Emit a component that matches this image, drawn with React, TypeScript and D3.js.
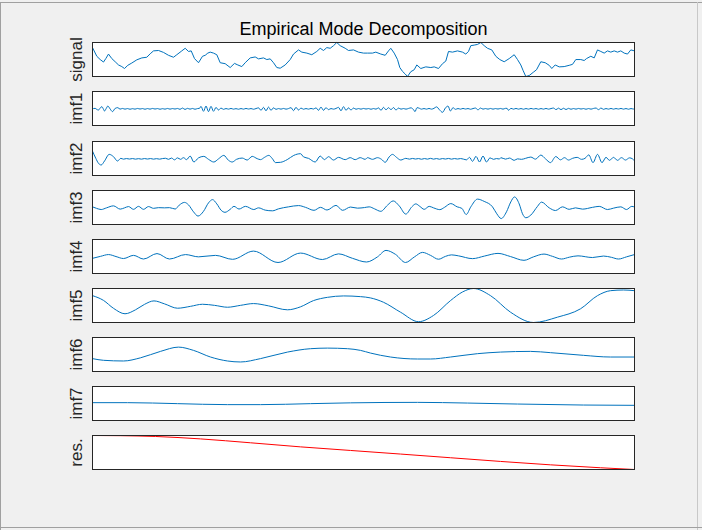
import React from "react";
import * as d3 from "d3";

const chartTitle = "Empirical Mode Decomposition";
const panelLabels = ["signal", "imf1", "imf2", "imf3", "imf4", "imf5", "imf6", "imf7", "res."];

// [time, value] samples
const signalData: [number, number][] = [
  [0, 12.7], [4.3, 3.7], [7.7, 0.3], [11, -2.3], [13.3, 1.3], [16, 6], [19.3, 1.3], [22.7, -2], [26, -5.3], [29.3, -7],
  [32, -9], [35.3, -5.7], [39.3, -3.3], [44.3, 0], [49.3, 2], [54.3, 2.7], [57.7, 6.3], [61, 9.3], [66, 9.7], [71, 7.7],
  [76, 4.7], [81, 2.7], [84.3, 5.3], [89.3, 9.3], [92.7, 12], [96, 8.7], [98.7, 9.3], [102, 1.3], [106, -3], [110, 3.7],
  [112.7, 4.7], [115.3, 7], [117.7, 8], [121, 7], [124.3, 5.3], [127.7, -3], [132.7, -4], [137.7, -8], [142, -3.7], [145.3, -5.3],
  [149.3, -7], [152.7, -3], [157.7, 2], [162.7, 3], [166, 1], [171, 2], [174.3, 0.3], [177.7, 1], [181, -3], [184.3, -8],
  [187.7, -8.7], [192.7, -5.3], [197.7, 0.3], [201, 6], [206, 10.3], [209.3, 8], [214.3, 7], [219.3, 5.3], [224.3, 8.7], [227.7, 12],
  [231, 9.7], [234.3, 12.7], [237.7, 12], [241, 14.7], [244.3, 18], [247.7, 14.7], [252.7, 12], [256, 9.7], [261, 10.3], [266, 8],
  [271, 7], [275, 7], [280, 7], [283.3, 8], [288.3, 6], [292.7, 4.7], [296, 9.3], [298.3, 12], [301.7, 7], [305, 0.3],
  [307.3, -8], [310, -12], [312.7, -14.7], [315, -17.3], [318.3, -12.3], [321.7, -10.3], [324.3, -5.3], [328.3, -9], [333.3, -7.3], [338.3, -8],
  [341.7, -7.3], [346, -9], [350, -4], [353.3, -1.3], [356, 8.7], [360, 8], [365, 9.3], [370, 8], [373.3, 6], [376, 8.7],
  [378.3, 14.7], [381.7, 15.3], [385, 16], [388.3, 18], [391.7, 14.7], [395, 12], [399.3, 10.3], [403.3, 3.7], [407.3, 0.3], [411.7, -2],
  [416.7, 1.3], [421.7, 5.3], [425, 0.3], [428.3, -5.3], [430.7, -11.3], [433.3, -17.3], [436.7, -16.3], [440.7, -13], [444, -10.3], [448.3, -2],
  [452.7, -3], [456.7, -5.7], [459.3, -9], [462.7, -5.3], [466.7, -7.3], [471.7, -7], [476.7, -5.7], [480, -4.7], [483.3, 0.3], [488.3, 0.3],
  [491.7, -0.7], [494, 1.3], [498.3, 3.7], [501.7, 2], [505, 10.3], [508.3, 8.7], [511.7, 7], [515, 9.3], [518.3, 8], [521.7, 9.3],
  [525, 8], [528.3, 9.3], [531.7, 7], [535, 6], [538.3, 10.3], [542, 9.3],
];

const imf1Data: [number, number][] = [
  [0, 0], [1, 0.3], [2.7, 0.5], [4.3, -0.6], [6, -1.2], [7.7, 0.8], [9.3, 2.2], [10.7, 0.2], [12, -2.2], [13.7, 0.3],
  [15.3, 2.8], [17.7, -0.2], [20, -2.8], [22.7, 0.5], [25.3, 1.2], [27.5, -0.3],
  [30, 0.4], [32.5, -0.3], [35, 0.3], [37.5, -0.4], [40, 0.2], [42.5, -0.3], [45, 0.4], [47.5, -0.2], [50, 0.3], [52.5, -0.4],
  [55, 0.3], [57.5, -0.3], [60, 0.4], [62.5, -0.2], [65, 0.3], [67.5, -0.4], [70, 0.2], [72.5, -0.3], [75, 0.4], [77.5, -0.3],
  [80, 0.3], [82.5, -0.2], [85, 0.4], [87.5, -0.5], [90, 0.8], [92.5, -0.6], [95, 0.5], [97.5, -0.3], [100, 0.4], [102.5, -0.4], [105, 0.3],
  [107, 0.5], [108.5, 2.5], [111, -2.5], [113.5, 2.8], [116, -2.8], [118.5, 2.5], [121, -2.5], [123.5, 1.5], [126, -1.2], [128.5, 0.8],
  [131, -0.5], [133.5, 0.3],
  [136, -0.3], [138.5, 0.4], [141, -0.3], [143.5, 0.2], [146, -0.4], [148.5, 0.3], [151, -0.3], [153.5, 0.4], [156, -0.2], [158.5, 0.3],
  [161, -0.4], [163.5, 0.3],
  [166, 1], [168.5, -1.5], [171, 1.5], [173.5, -2], [176, 1.8], [178.5, -1.5], [181, 1], [183.5, -0.5],
  [186, 0.3], [188.5, -0.3], [191, 0.4], [193.5, -0.3], [196, 0.3],
  [198.5, 1.2], [201, -1.8], [203.5, 1.5], [206, -1.2], [208.5, 0.8], [211, -0.4],
  [213.5, 0.3], [216, -0.3], [218.5, 0.4], [221, -0.2],
  [223.5, 1], [226, -1.5], [228.5, 1.8], [231, -1.5], [233.5, 1.2], [236, -0.8], [238.5, 0.3],
  [241, -0.3], [243.5, 0.4],
  [246, 1.5], [248.5, -2], [251, 2.2], [253.5, -1.5], [256, 1], [258.5, -1.2], [261, 0.8], [263.5, -0.4],
  [266, 0.3], [268.5, -0.3], [271, 0.4], [273.5, -0.2], [276, 0.3], [278.5, -0.4], [281, 0.3], [283.5, -0.3],
  [286, 1], [288.5, -1.5], [291, 1.5], [293.5, -1], [296, 1.2], [298.5, -0.8], [301, 1.3], [303.5, -1.2], [306, 0.8], [308.5, -0.3],
  [311, 0.3], [313.5, -0.3], [316, 0.4],
  [318.5, 1], [321, -0.8], [322.5, -2.8], [324.5, 1.2], [327, 0.5], [329, -0.3],
  [331.5, 0.3], [334, -0.3], [336.5, 0.4], [339, -0.3],
  [341.5, 0.5], [344, 2], [347, -1], [350, -3.5], [353, 1], [355.5, 2.8], [358, -2.2], [360.5, 1.2], [363, -0.5],
  [365.5, 0.3], [368, -0.3], [370.5, 0.4], [373, -0.2], [375.5, 0.3], [378, -0.4], [380.5, 0.3],
  [383, 0.8], [385.5, -1], [388, 0.8], [390.5, -0.3],
  [393, 0.3], [395.5, -0.3], [398, 0.4], [400.5, -0.3], [403, 0.3], [405.5, -0.2], [408, 0.4], [410.5, -0.3], [413, 0.5],
  [414.5, 0.5], [416, -1.5], [418.5, 0.5],
  [421, -0.3], [423.5, 0.4], [426, -0.3], [428.5, 0.3], [431, -0.4], [433.5, 0.3], [436, -0.3], [438.5, 0.4], [441, -0.2], [443.5, 0.3],
  [446, -0.4], [448.5, 0.3], [451, -0.3], [453.5, 0.4], [456, -0.3], [458.5, 0.3],
  [461, 0.8], [463.5, -0.8], [466, 0.7], [468.5, -0.8], [471, 0.6], [473.5, -0.7], [476, 0.5], [478.5, -0.4],
  [481, 0.3], [483.5, -0.3], [486, 0.4], [488.5, -0.2], [491, 0.3], [493.5, -0.4], [496, 0.3], [498.5, -0.3], [501, 0.4],
  [503.5, 0.8], [506, -0.8], [508.5, 0.8], [511, -0.5],
  [513.5, 0.3], [516, -0.3], [518.5, 0.4], [521, -0.3], [523.5, 0.3], [526, -0.2], [528.5, 0.4], [531, -0.3], [533.5, 0.3], [536, -0.4],
  [538.5, 0.3], [541, -0.2], [542, 0],
];

const imf2Data: [number, number][] = [
  [0, 7.8], [3.3, 0.5], [6, -4.5], [8.7, -6.2], [12, -2.2], [16.7, 4.5], [21, 2.2], [25, -2.2], [28.3, 0.5], [31, -0.3],
  [34, 0.3], [37, -0.2], [40, 0.3], [43, -0.3], [46, 0.2], [49, -0.3], [52, 0.3], [55, -0.2], [58, 0.3], [61, -0.3],
  [64, 0.2], [67, -0.3], [70, 0.3], [73, 0.6], [76, -0.5], [79, 0.8], [82, -1], [85, 1], [88, -0.5], [91, 1.2], [94, -0.8],
  [97.7, 2.8], [101.3, -3.2], [106, 1], [111.3, 2.5], [116, -0.5], [121.3, -3.2], [126, 0], [131.3, 3.5], [136, -1.5], [139.7, -3.2],
  [144, -0.5], [149.7, 0.8], [154.7, -1.2], [159.7, 2.5], [164.7, 0.2], [168, -0.8], [172, 1.5], [176.3, 3.5], [180, 0], [183, -3.8],
  [188, -3.5], [194.7, -0.8], [201.3, 3.5], [208, 5.2], [211, 2], [216, 0.5], [222.7, -3.2], [227.7, 2.8], [232, -0.8], [236, 2.2],
  [241, -1.2], [246, 1.5], [252.7, -0.8], [257.7, 1.2], [262.7, -0.8], [267.7, 1.2], [272.7, -0.5], [275, 1.2], [280, -0.5], [285, 1.2],
  [289, -0.5], [292.7, -3.5], [296.7, 2], [300, 4.5], [304, 1.5], [308.3, -1.2], [313.3, 0.5],
  [317, -0.3], [320, 0.4], [323, -0.2], [326, 0.3], [329, -0.4], [332, 0.3], [335, -0.3], [338, 0.5], [341, -0.3], [344, 0.3],
  [347, -0.4], [350, 0.3], [353, -0.2], [356, 0.4], [359, -0.3], [362, 0.3], [365, -0.2], [368, 0.3], [371, -0.3],
  [374, -1], [377, 1.5], [380, -2.5], [383.5, 2.5], [387, -3.2], [390.5, 2.8], [394, -3.2], [397.5, 1], [401, -0.5], [404, 0.3],
  [407, -0.2], [408.3, 1.2], [413, -0.3], [417, 0.8], [421.7, -1.5], [425, 0], [429, -0.5], [433, 0.5], [438.3, 1.8], [443, -0.3],
  [448.3, 3.8], [453, 0], [458, -3.8], [463.3, 2.3], [468, -1], [472, 1.2], [476, -1.2], [480, 0.5], [484.7, 1.5], [489, -0.5],
  [492.5, 0.5], [496.3, 4], [500.5, -3.8], [505, 4.5], [509.5, -3.8], [513.5, 1.5], [517, -1.5], [521, 1.5], [525, -1.5], [529, 1.2],
  [533, -1.2], [537, 1], [540, 0], [542, -2],
];

const imf3Data: [number, number][] = [
  [0, 1], [4, -0.5], [8.7, -1.7], [14, 0], [21, 2], [27.7, -1.3], [32, 0], [36, 1.3], [41, -1.5], [46, 1.5],
  [51, -1.5], [56, 1.3], [61, -0.5], [66, 0.2], [72, 0], [77, 0.2], [82.7, -1.2], [86.7, 2.7], [92, 5.5], [96, 3],
  [101, -4], [105.5, -8.3], [111, -3.5], [116, 5], [120, 8.3], [124.3, 4], [128.7, -2.5], [132.5, -4.5], [137.7, -1.5], [141.5, 1.5],
  [146.5, -1.2], [153, 1.5], [161.3, -1.7], [166, 0], [172.7, -2.3], [180, -3], [186, -1], [196, 1], [206, 2.3], [213, 0.5],
  [221.5, -2.5], [228, 0.5], [234.5, -2.2], [243.5, 2.5], [250, -2.5], [258, 0.8], [265, -0.3], [272, 0.3], [276.7, 1], [282, -1],
  [288.3, -3.5], [295, 2.7], [300.7, 7], [306.7, 2], [313.3, -6.3], [319.3, 1], [323.3, 4], [327.3, 1.5], [331.7, -1.5], [336.7, 1.5],
  [341, 0], [347.3, -1.8], [352, 0.5], [358.3, 4.3], [364.7, 1], [369.3, -0.5], [373.7, -6.7], [378.3, 1], [385, 8.8], [391.7, 6.5],
  [400, 1], [404.3, -6], [408.7, -10.8], [414, -4], [418.3, 6], [422, 11], [426.7, 4], [430, -6], [433.3, -10], [438.3, -7.3],
  [445, 1.5], [449, 5.8], [456.7, 0], [463, -2.7], [470, 1], [476.7, -1.5], [483, 0], [490, -1.3], [500, 0.5], [506.7, 1.5],
  [515, -1.7], [521, -0.3], [528.3, 1], [534, -1.7], [539.3, 1.5], [542, 0.8],
];

const imf4Data: [number, number][] = [
  [0, -1.5], [8, 0.5], [16, 2.3], [23.5, 0.3], [31, -1.7], [41, 1.5], [51, -2.2], [64.5, 3.3], [77, -2.2], [93, 2.3],
  [106, 0], [123, 1.5], [140, -2.5], [161, 5.8], [185.5, -5.7], [208, 3.8], [230, -2.7], [246, 3], [260, -1.5], [274, -5.2],
  [285, 0], [293.5, 6.5], [303, 2.5], [313, -5.7], [322, 0], [330, 4.5], [338, 1.5], [346, -2.4], [353, 0.5], [359, 2],
  [366, 1], [380, -1.8], [392, 0.8], [405.5, 3.5], [418, 0.3], [431.5, -3.5], [441, 0], [451.5, 2.8], [460, 0.5], [469, -2.2],
  [477, -0.3], [485.5, 1], [500, -0.7], [511, 0.8], [519, -0.5], [526, -2.2], [534, 0], [542, 2.3],
];

const imf5Data: [number, number][] = [
  [0, 10.3], [11, 5.5], [21, -2.5], [32.5, -8], [43, -4], [52, 1.5], [61.5, 5], [72, 2], [85, -2.4], [98, -0.5],
  [110, 1.6], [122, 0.5], [135, -1.4], [148, 0.5], [161, 2.3], [176, 0], [195, -4], [208, -1], [221, 5.3], [235, 8.6],
  [251, 10], [268, 9.3], [278, 8], [291, 3.6], [308, -6.4], [326, -16], [341, -9.7], [358, 5.3], [370, 14], [381, 17.5],
  [398, 10.3], [418, -6.4], [441, -16.8], [465, -11.4], [488, -3], [505, 10.3], [518, 15.3], [531, 16], [542, 15.3],
];

const imf6Data: [number, number][] = [
  [0, -3.8], [11, -5.5], [31, -6.2], [48, -3], [68, 3.5], [86, 7.8], [101, 4.5], [118, -2.2], [135, -6.2], [148, -7.2],
  [168, -3.8], [195, 2.8], [218, 6.2], [235, 6.8], [255, 6.2], [268, 4.5], [278, 1.8], [298, -2.2], [325, -4.2], [338, -4.2],
  [358, -2.2], [385, 1.2], [408, 2.8], [438, 3.5], [458, 2.2], [491, -0.5], [518, -2.2], [542, -2.2],
];

const imf7Data: [number, number][] = [
  [0, 1.2], [35, 1.2], [85, 0.2], [135, -0.8], [168, -0.8], [218, 0.2], [258, 1], [325, 1.5], [375, 0.8], [425, -0.2],
  [491, -1.2], [542, -1.5],
];

const residualData: [number, number][] = [
  [0, 35], [28, 34.8], [63, 34], [108, 31.5], [158, 27.5], [208, 23.3], [258, 19.6], [308, 15.9], [358, 12.1], [408, 8.3],
  [458, 4.8], [508, 1.8], [542, 0],
];

const imfSeries = [imf1Data, imf2Data, imf3Data, imf4Data, imf5Data, imf6Data, imf7Data];

export default function App() {
  const W = 702, H = 530;
  const left = 92.5, right = 634.5;
  const panelTop = (i: number) => Math.round(42.3 + 49.1 * i) + 0.5;
  const panelH = 34;

  const x = d3.scaleLinear().domain([0, 542]).range([left, right]);

  const imfExtent = d3.extent(imfSeries.flat().map((d) => d[1])) as [number, number];
  const sigExtent = d3.extent(signalData, (d) => d[1]) as [number, number];
  const resExtent = d3.extent(residualData, (d) => d[1]) as [number, number];

  const panels = [
    { data: signalData, domain: sigExtent, color: "#0072BD", curve: d3.curveLinear },
    ...imfSeries.map((d) => ({ data: d, domain: imfExtent, color: "#0072BD", curve: d3.curveMonotoneX })),
    { data: residualData, domain: resExtent, color: "#FF0000", curve: d3.curveMonotoneX },
  ];

  const font = "'Liberation Sans', Arial, Helvetica, sans-serif";

  return (
    <div style={{ position: "absolute", left: 0, top: 0 }}>
      <svg width={W} height={H} style={{ display: "block" }}>
        <rect x={0} y={0} width={W} height={H} fill="#f0f0f0" />
        <line x1={0} x2={W} y1={2.5} y2={2.5} stroke="#a0a0a0" strokeWidth={1} />
        <line x1={0.5} x2={0.5} y1={2} y2={H} stroke="#a0a0a0" strokeWidth={1} />
        <line x1={697.5} x2={697.5} y1={2} y2={H} stroke="#c8c8c8" strokeWidth={1} />
        <line x1={0} x2={W} y1={527.5} y2={527.5} stroke="#a0a0a0" strokeWidth={1} />
        <text x={(left + right) / 2} y={35} textAnchor="middle" fontFamily={font} fontSize={18} fill="#000">
          {chartTitle}
        </text>
        {panels.map((p, i) => {
          const top = panelTop(i);
          const y = d3.scaleLinear().domain(p.domain).range([top + panelH, top]);
          const line = d3
            .line<[number, number]>()
            .x((d) => x(d[0]))
            .y((d) => y(d[1]))
            .curve(p.curve);
          return (
            <g key={i}>
              <rect x={left} y={top} width={right - left} height={panelH} fill="#ffffff" />
              <path d={line(p.data) || ""} fill="none" stroke={p.color} strokeWidth={1} />
              <rect x={left} y={top} width={right - left} height={panelH} fill="none" stroke="#262626" strokeWidth={1} />
              <text
                transform={`translate(81.5,${top + panelH / 2}) rotate(-90)`}
                textAnchor="middle"
                fontFamily={font}
                fontSize={17}
                fill="#262626"
              >
                {panelLabels[i]}
              </text>
            </g>
          );
        })}
      </svg>
    </div>
  );
}
